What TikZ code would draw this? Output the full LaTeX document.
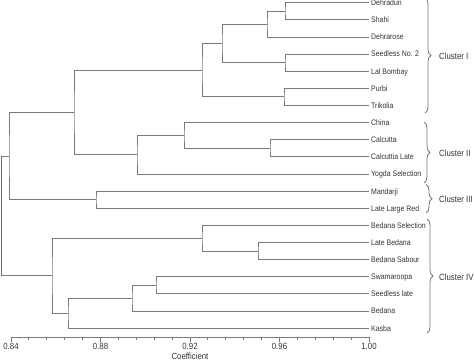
\documentclass[tikz,border=0pt]{standalone}
\usepackage{fontspec}
\setmainfont{Liberation Sans}[FakeStretch=0.87]
\usetikzlibrary{decorations.pathreplacing}
\definecolor{linegray}{HTML}{7A7A7A}
\definecolor{txtgray}{HTML}{333333}
\begin{document}
\begin{tikzpicture}[x=1pt,y=-1pt,
  dline/.style={draw=linegray,line width=0.9pt},
  rootline/.style={draw=linegray!90!black,line width=1.8pt},
  leaflabel/.style={anchor=west,inner sep=0pt,text height=5.8pt,text depth=0pt,font=\fontsize{8}{9}\selectfont,text=txtgray},
  clabel/.style={anchor=west,inner sep=0pt,text height=6.5pt,text depth=0pt,font=\fontsize{9}{10}\selectfont,text=txtgray},
  axlabel/.style={anchor=north,inner sep=0pt,font=\fontsize{9}{10}\selectfont,text=txtgray},
  bracestyle/.style={draw=linegray,line width=0.8pt,decorate,decoration={brace,amplitude=6pt}}]
\useasboundingbox (0,0) rectangle (474,363);

% leaves
\foreach \i/\t in {0/Dehradun,1/Shahi,2/Dehrarose,3/Seedless No. 2,4/Lal Bombay,5/Purbi,6/Trikolia,7/China,8/Calcutta,9/Calcuttia Late,10/Yogda Selection,11/Mandarji,12/Late Large Red,13/Bedana Selection,14/Late Bedana,15/Bedana Sabour,16/Swamaroopa,17/Seedless late,18/Bedana,19/Kasba}{
  \coordinate (L\i) at (369,{2.7+17.13*\i});
  \node[leaflabel] (t\i) at (371,{2.7+17.13*\i}) {\t};
}

% internal nodes
\coordinate (n1) at (285,11.27);
\coordinate (n2) at (267,24.1);
\coordinate (n3) at (285,62.66);
\coordinate (n4) at (222,43.4);
\coordinate (n5) at (284,96.9);
\coordinate (n6) at (202,70.15);
\coordinate (n7) at (270,148.3);
\coordinate (n8) at (184,135.5);
\coordinate (n9) at (137,154.7);
\coordinate (n10) at (74,112.4);
\coordinate (n11) at (96,199.7);
\coordinate (n12) at (9,156.1);
\coordinate (n13) at (258,251.1);
\coordinate (n14) at (202,238.2);
\coordinate (n15) at (156,285.3);
\coordinate (n16) at (132,298.2);
\coordinate (n17) at (68,313.2);
\coordinate (n18) at (52,275.7);
\coordinate (root) at (1.5,215.9);

\draw[dline] (L0) -| (n1) |- (L1);
\draw[dline] (n1) -| (n2) |- (L2);
\draw[dline] (L3) -| (n3) |- (L4);
\draw[dline] (n2) -| (n4) |- (n3);
\draw[dline] (L5) -| (n5) |- (L6);
\draw[dline] (n4) -| (n6) |- (n5);
\draw[dline] (L8) -| (n7) |- (L9);
\draw[dline] (L7) -| (n8) |- (n7);
\draw[dline] (n8) -| (n9) |- (L10);
\draw[dline] (n6) -| (n10) |- (n9);
\draw[dline] (L11) -| (n11) |- (L12);
\draw[dline] (n10) -| (n12) |- (n11);
\draw[dline] (L14) -| (n13) |- (L15);
\draw[dline] (L13) -| (n14) |- (n13);
\draw[dline] (L16) -| (n15) |- (L17);
\draw[dline] (n15) -| (n16) |- (L18);
\draw[dline] (n16) -| (n17) |- (L19);
\draw[dline] (n14) -| (n18) |- (n17);
\draw[dline] (n12) -- (root |- n12);
\draw[dline] (n18) -- (root |- n18);
\draw[rootline] (root |- n12) -- (root |- n18);

% braces and cluster labels
\coordinate (b1a) at (425,-2);   \coordinate (b1b) at (425,113);
\coordinate (b2a) at (424,122);  \coordinate (b2b) at (424,183);
\coordinate (b3a) at (426,184.5);\coordinate (b3b) at (426,213);
\coordinate (b4a) at (427,219);  \coordinate (b4b) at (427,333);
\draw[bracestyle] (b1a) -- (b1b);
\draw[bracestyle] (b2a) -- (b2b);
\draw[bracestyle] (b3a) -- (b3b);
\draw[bracestyle] (b4a) -- (b4b);
\node[clabel] (c1) at (439,56) {Cluster I};
\node[clabel] (c2) at (439,153) {Cluster II};
\node[clabel] (c3) at (439,199) {Cluster III};
\node[clabel] (c4) at (439,277) {Cluster IV};

% axis
\coordinate (ax0) at (11,337);
\coordinate (ax1) at (369,337);
\draw[dline] (ax0) -- (ax1);
\foreach \k in {0,...,20}{
  \pgfmathsetmacro{\xx}{11+17.9*\k}
  \pgfmathtruncatemacro{\m}{mod(\k,5)}
  \ifnum\m=0
    \draw[dline] (\xx,337) -- (\xx,342.5);
  \else
    \draw[dline] (\xx,337) -- (\xx,340.5);
  \fi
}
\node[axlabel] (a0) at (11,343.5) {0.84};
\node[axlabel] (a1) at (100.5,343.5) {0.88};
\node[axlabel] (a2) at (190,343.5) {0.92};
\node[axlabel] (a3) at (279.5,343.5) {0.96};
\node[axlabel] (a4) at (369,343.5) {1.00};
\node[axlabel] (ct) at (190,353) {Coefficient};
\end{tikzpicture}
\end{document}
